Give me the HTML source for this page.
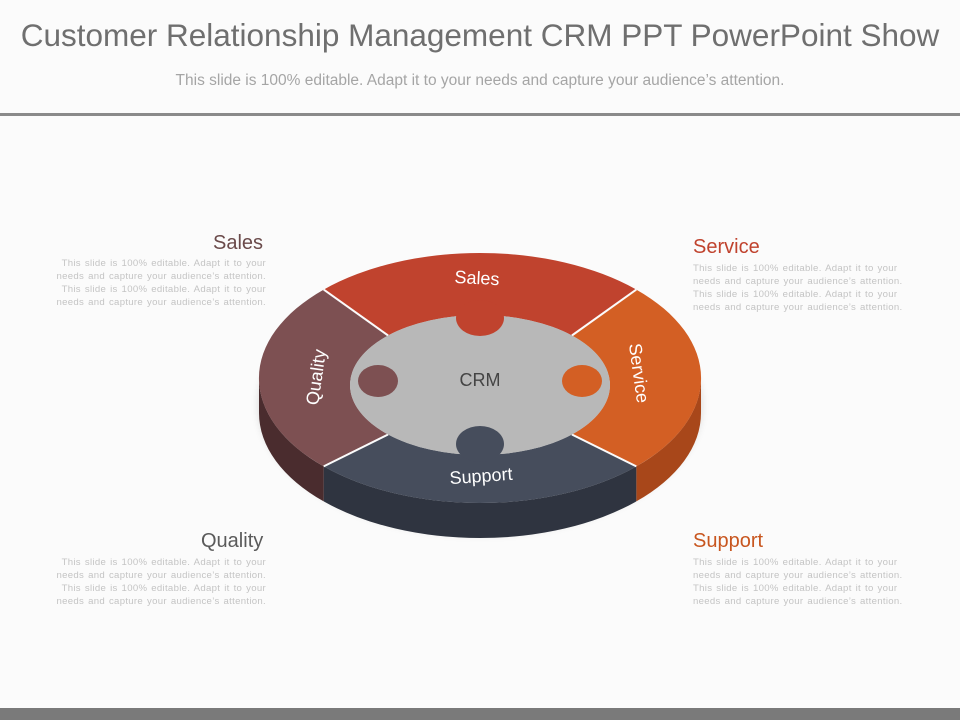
<!DOCTYPE html>
<html><head><meta charset="utf-8"><style>
body{margin:0;width:960px;height:720px;overflow:hidden;background:#fbfbfb;font-family:"Liberation Sans",sans-serif;position:relative}
.t{position:absolute;left:0;width:960px;text-align:center;white-space:nowrap}
.h{position:absolute;font-size:20px}
.p{position:absolute;font-size:9.6px;letter-spacing:0.3px;word-spacing:1px;line-height:13px;color:#c4c4c4;width:230px;white-space:nowrap}
</style></head><body>
<div class="t" style="top:17px;font-size:31.5px;color:#6f6f6f">Customer Relationship Management CRM PPT PowerPoint Show</div>
<div class="t" style="top:72px;font-size:15.5px;color:#a5a5a5">This slide is 100% editable. Adapt it to your needs and capture your audience’s attention.</div>
<div style="position:absolute;left:0;top:113px;width:960px;height:3px;background:#8a8a8a"></div>
<div style="position:absolute;left:0;top:708px;width:960px;height:12px;background:#7a7a7a"></div>

<svg width="960" height="720" style="position:absolute;left:0;top:0">
<defs><filter id="sh"><feGaussianBlur stdDeviation="4"/></filter></defs>
<ellipse cx="480" cy="405" rx="222" ry="130" fill="#000" opacity="0.12" filter="url(#sh)"/>
<path d="M701,378 A221 125 0 0 1 636.3,466.4 L636.3,501.4 A221 125 0 0 0 701,413 Z" fill="#a8471a"/>
<path d="M636.3,466.4 A221 125 0 0 1 323.7,466.4 L323.7,501.4 A221 125 0 0 0 636.3,501.4 Z" fill="#2f3440"/>
<path d="M323.7,466.4 A221 125 0 0 1 259,378 L259,413 A221 125 0 0 0 323.7,501.4 Z" fill="#4a2c2e"/>
<path d="M323.7,289.6 A221 125 0 0 1 636.3,289.6 L571.9,335.5 A130 70 0 0 0 388.1,335.5 Z" fill="#c0432e"/>
<path d="M636.3,289.6 A221 125 0 0 1 636.3,466.4 L571.9,434.5 A130 70 0 0 0 571.9,335.5 Z" fill="#d35f24"/>
<path d="M636.3,466.4 A221 125 0 0 1 323.7,466.4 L388.1,434.5 A130 70 0 0 0 571.9,434.5 Z" fill="#464d5c"/>
<path d="M323.7,466.4 A221 125 0 0 1 323.7,289.6 L388.1,335.5 A130 70 0 0 0 388.1,434.5 Z" fill="#7d5052"/>
<g stroke="#fbfbfb" stroke-width="2">
<line x1="323.7" y1="289.6" x2="388.1" y2="335.5"/><line x1="636.3" y1="289.6" x2="571.9" y2="335.5"/>
<line x1="323.7" y1="466.4" x2="388.1" y2="434.5"/><line x1="636.3" y1="466.4" x2="571.9" y2="434.5"/>
</g>
<ellipse cx="480" cy="385" rx="130" ry="70" fill="#b8b8b8"/>
<ellipse cx="480" cy="318" rx="24" ry="18" fill="#c0432e"/>
<ellipse cx="480" cy="444" rx="24" ry="18" fill="#464d5c"/>
<ellipse cx="582" cy="381" rx="20" ry="16" fill="#d35f24"/>
<ellipse cx="378" cy="381" rx="20" ry="16" fill="#7d5052"/>
<text x="480" y="386" font-size="18" fill="#444" text-anchor="middle">CRM</text>
<text x="477" y="284" font-size="18" fill="#fff" text-anchor="middle" transform="rotate(3 477 278)">Sales</text>
<text x="481" y="482" font-size="18" fill="#fff" text-anchor="middle" transform="rotate(-4 481 476)">Support</text>
<text x="0" y="0" font-size="18" fill="#fff" text-anchor="middle" transform="translate(322 378) rotate(-82)">Quality</text>
<text x="0" y="0" font-size="18" fill="#fff" text-anchor="middle" transform="translate(633 374) rotate(82)">Service</text>
</svg>

<div class="h" style="left:213px;top:232px;color:#6a4a4a">Sales</div>
<div class="p" style="left:36px;top:257px;text-align:right">This slide is 100% editable. Adapt it to your<br>needs and capture your audience’s attention.<br>This slide is 100% editable. Adapt it to your<br>needs and capture your audience’s attention.</div>
<div class="h" style="left:693px;top:236px;color:#c0432e">Service</div>
<div class="p" style="left:693px;top:262px">This slide is 100% editable. Adapt it to your<br>needs and capture your audience’s attention.<br>This slide is 100% editable. Adapt it to your<br>needs and capture your audience’s attention.</div>
<div class="h" style="left:201px;top:530px;color:#5a5a5a">Quality</div>
<div class="p" style="left:36px;top:556px;text-align:right">This slide is 100% editable. Adapt it to your<br>needs and capture your audience’s attention.<br>This slide is 100% editable. Adapt it to your<br>needs and capture your audience’s attention.</div>
<div class="h" style="left:693px;top:530px;color:#c8561f">Support</div>
<div class="p" style="left:693px;top:556px">This slide is 100% editable. Adapt it to your<br>needs and capture your audience’s attention.<br>This slide is 100% editable. Adapt it to your<br>needs and capture your audience’s attention.</div>
</body></html>
